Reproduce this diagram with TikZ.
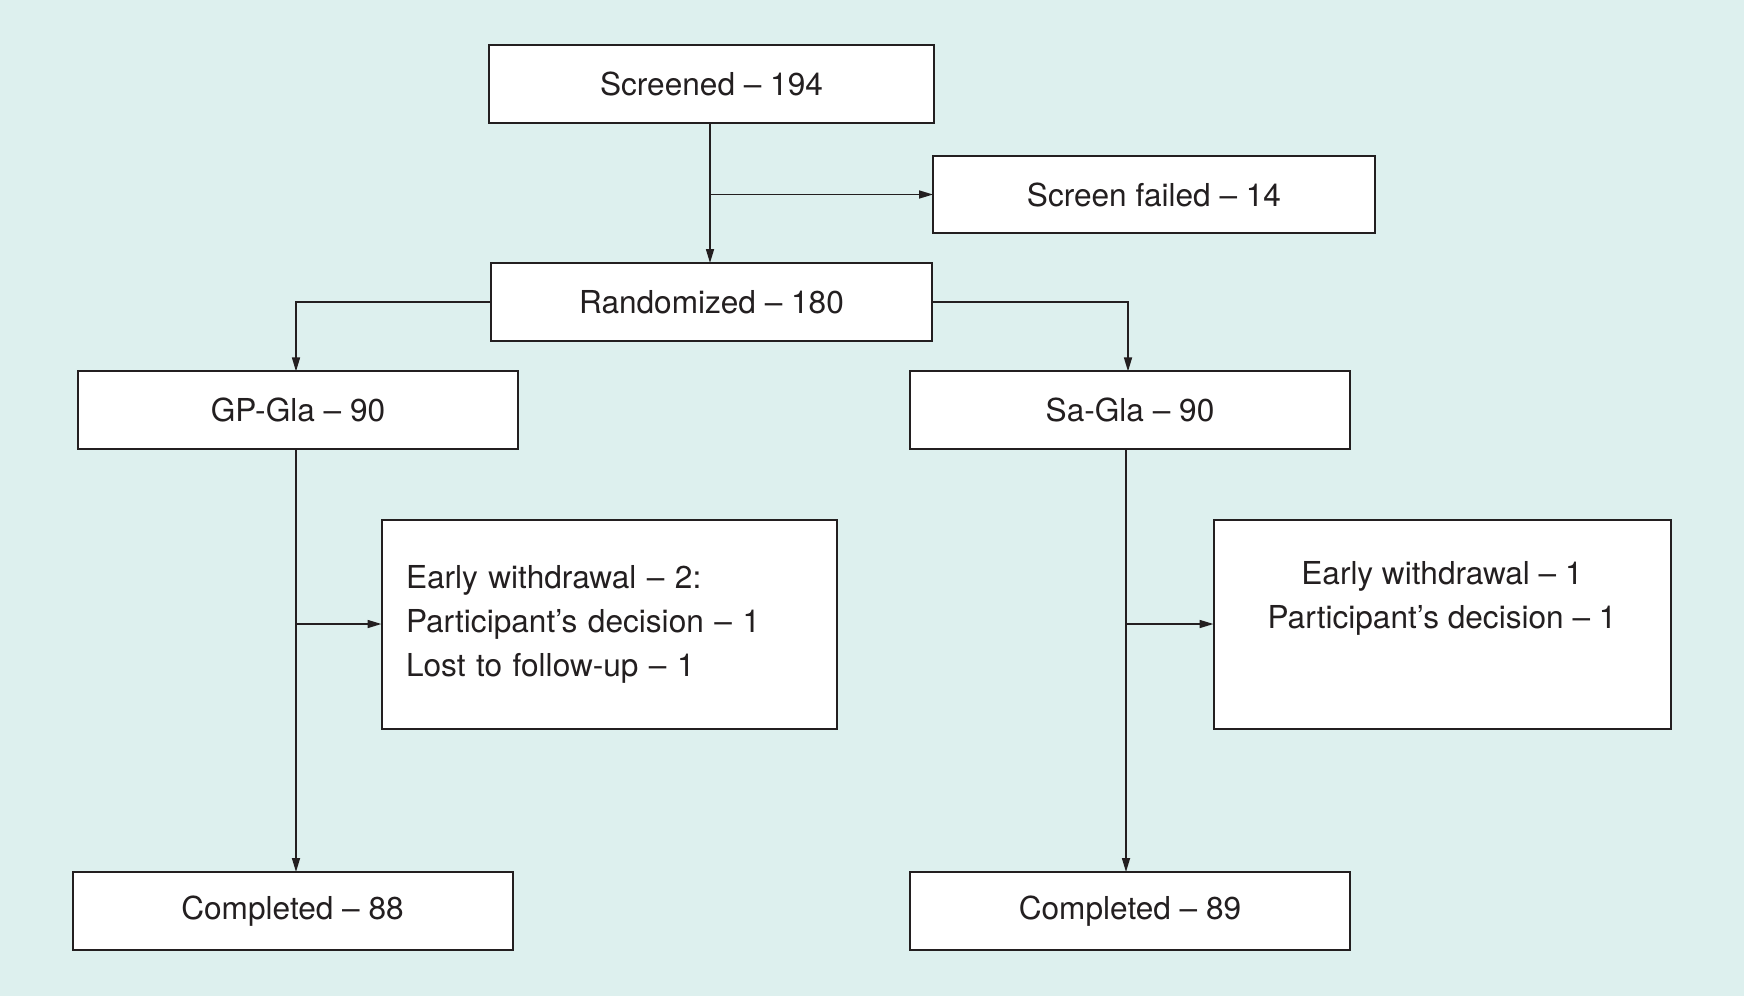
\documentclass[tikz,border=0pt]{standalone}
\usepackage{fontspec}
\setmainfont{TeX Gyre Heros}
\usetikzlibrary{arrows.meta}
\definecolor{bg}{HTML}{DDF0EE}
\definecolor{ink}{HTML}{231F20}
\begin{document}
\begin{tikzpicture}[x=0.5pt,y=-0.5pt,
  font=\fontsize{15.8}{22}\selectfont,
  box/.style={draw=ink, line width=1pt, fill=white, outer sep=0pt, inner sep=0pt, text=ink,
    minimum width=220.5pt, minimum height=39pt},
  wbox/.style={box, minimum width=227.5pt, minimum height=104.5pt},
  arr/.style={draw=ink, line width=0.8pt, -{Triangle[length=7pt,width=4pt]}},
  ln/.style={draw=ink, line width=0.8pt}]
\fill[bg] (0,0) rectangle (1744,996);
\useasboundingbox (0,0) rectangle (1744,996);
\node[box, minimum width=222.5pt] (scr) at (711.5,84) {Screened – 194};
\node[box, minimum width=221pt, minimum height=38.5pt] (fail) at (1154,194.5) {Screen failed – 14};
\node[box] (rand) at (711.5,302) {Randomized – 180};
\node[box, minimum width=220pt] (gp) at (298,410.4) {GP-Gla – 90};
\node[box, minimum width=220pt] (sa) at (1130,410.4) {Sa-Gla – 90};
\node[wbox, align=left, text width=203pt, inner xsep=12.25pt] (wl) at (609,624)
  {Early withdrawal – 2:\\Participant’s decision – 1\\Lost to follow-up – 1};
\node[wbox, minimum width=228.5pt, align=center] (wr) at (1442,624)
  {Early withdrawal – 1\\Participant’s decision – 1\\\strut};
\node[box, minimum width=220pt] (cl) at (292.5,911) {Completed – 88};
\node[box, minimum width=220pt] (cr) at (1130,911) {Completed – 89};
\coordinate (sx) at (710,0);
\coordinate (lx) at (296,0);
\coordinate (rx) at (1128,0);
\coordinate (sx2) at (1126,0);
\draw[arr] (scr.south -| sx) -- (rand.north -| sx);
\draw[arr] (fail.west -| sx) -- (fail.west);
\draw[arr] (rand.west) -| (gp.north -| lx);
\draw[arr] (rand.east) -| (sa.north -| rx);
\draw[arr] (gp.south -| lx) -- (cl.north -| lx);
\draw[arr] (wl.west -| lx) -- (wl.west);
\draw[arr] (sa.south -| sx2) -- (cr.north -| sx2);
\draw[arr] (wr.west -| sx2) -- (wr.west);
\end{tikzpicture}
\end{document}
